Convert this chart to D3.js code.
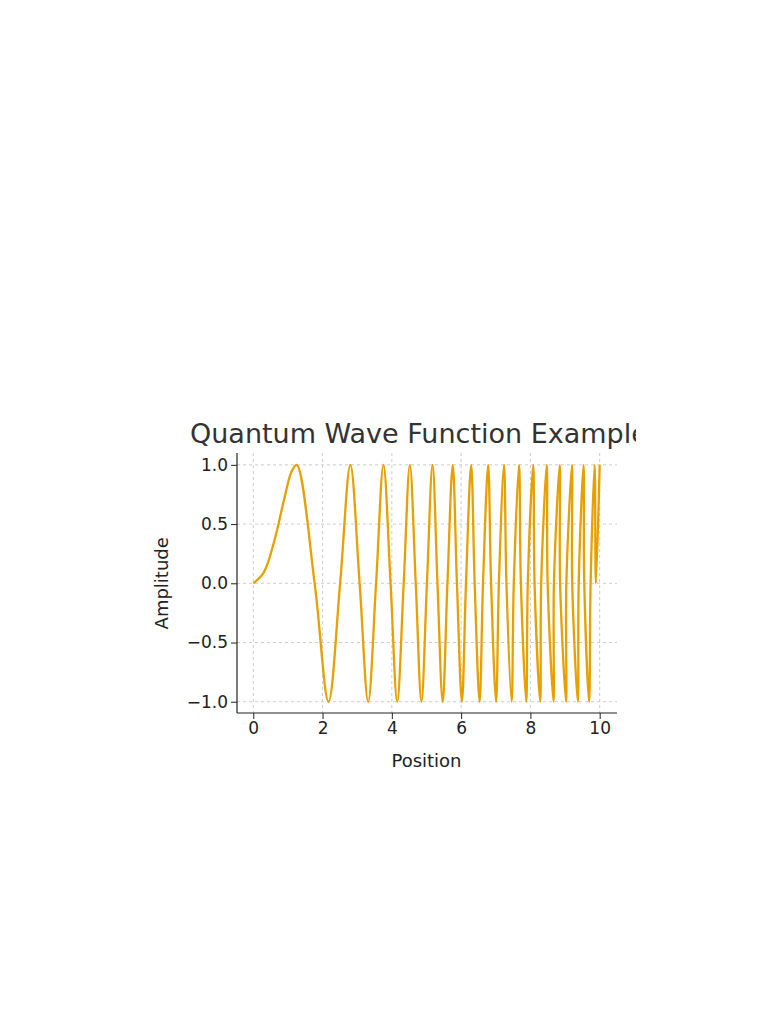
<!DOCTYPE html>
<html>
<head>
<meta charset="utf-8">
<script src="https://cdn.jsdelivr.net/npm/d3@7"></script>
<style>
  body { margin: 0; background: #fff; }
  text { font-family: "DejaVu Sans", sans-serif; }
</style>
</head>
<body>
<script>
// Valores: picos, valles y cruces por cero.
const posiciones = [0, 0.3, 0.6, 0.9, 1.1, 1.253, 1.772, 2.171, 2.507, 2.802, 3.070, 3.317, 3.545, 3.758,
  3.963, 4.155, 4.342, 4.520, 4.690, 4.854, 5.013, 5.175, 5.317, 5.468, 5.605, 5.758, 5.879, 6.023,
  6.140, 6.289, 6.391, 6.533, 6.632, 6.780, 6.865, 7.009, 7.090, 7.238, 7.308, 7.457, 7.520, 7.671,
  7.725, 7.880, 7.925, 8.081, 8.120, 8.283, 8.311, 8.472, 8.497, 8.668, 8.679, 8.847, 8.857, 9.031,
  9.038, 9.202, 9.207, 9.370, 9.394, 9.534, 9.555, 9.695, 9.738, 9.854, 9.891, 10];
const amplitudes = [0, 0.09, 0.35, 0.72, 0.94, 1, 0, -1, 0, 1, 0, -1, 0, 1,
  0, -1, 0, 1, 0, -1, 0, 1, 0, -1, 0, 1, 0, -1,
  0, 1, 0, -1, 0, 1, 0, -1, 0, 1, 0, -1, 0, 1,
  0, -1, 0, 1, 0, -1, 0, 1, 0, -1, 0, 1, 0, -1,
  0, 1, 0, -1, 0, 1, 0, -1, 0, 1, 0, 1, -0.5];
const ticksX = [0, 2, 4, 6, 8, 10];
const ticksY = [-1.0, -0.5, 0.0, 0.5, 1.0];

// Corrige: el último par debe ser (9.891, 1) y luego (10, -0.5).
const datos = posiciones.map((x, i) => ({ x, y: amplitudes[i] }));
datos.sort((a, b) => a.x - b.x);

const LEFT = 237, RIGHT = 617, TOP = 453, BOTTOM = 713;

const svg = d3.select("body").append("svg").attr("width", 768).attr("height", 1024);

const escalaX = d3.scaleLinear().domain([-0.47, 10.5]).range([LEFT, RIGHT]);
const escalaY = d3.scaleLinear().domain([-1.095, 1.1]).range([BOTTOM, TOP]);

// Grilla punteada
svg.append("g").selectAll("line").data(ticksX).join("line")
  .attr("x1", d => escalaX(d)).attr("x2", d => escalaX(d))
  .attr("y1", TOP).attr("y2", BOTTOM)
  .attr("stroke", "#ccc").attr("stroke-dasharray", "3,3");
svg.append("g").selectAll("line").data(ticksY).join("line")
  .attr("x1", LEFT).attr("x2", RIGHT)
  .attr("y1", d => escalaY(d)).attr("y2", d => escalaY(d))
  .attr("stroke", "#ccc").attr("stroke-dasharray", "3,3");

// Ejes
const ejeX = svg.append("g").attr("transform", `translate(0,${BOTTOM})`)
  .call(d3.axisBottom(escalaX).tickValues(ticksX).tickFormat(d3.format("d")).tickSizeOuter(0));
const ejeY = svg.append("g").attr("transform", `translate(${LEFT},0)`)
  .call(d3.axisLeft(escalaY).tickValues(ticksY).tickFormat(d => d3.format(".1f")(d).replace("-", "−")).tickSizeOuter(0));
[ejeX, ejeY].forEach(e => {
  e.selectAll("text").attr("font-size", 17).attr("fill", "#222").attr("font-family", "DejaVu Sans");
  e.selectAll("line").attr("stroke", "#222");
  e.select(".domain").attr("stroke", "#222").attr("stroke-width", 1.2);
});
ejeX.select(".domain").attr("d", `M${LEFT},0H${RIGHT}`);
ejeY.select(".domain").attr("d", `M0,${TOP}V${BOTTOM}`);

// Curva
const linea = d3.line().x(d => escalaX(d.x)).y(d => escalaY(d.y)).curve(d3.curveCatmullRom.alpha(0.5));
svg.append("path").datum(datos).attr("d", linea)
  .attr("fill", "none").attr("stroke", "#E8A000").attr("stroke-width", 2.3);

// Textos
svg.append("text").attr("x", escalaX(5)).attr("y", 767).attr("text-anchor", "middle")
  .attr("font-size", 18).attr("fill", "#222").text("Position");
svg.append("text").attr("transform", `translate(168,${escalaY(0)}) rotate(-90)`)
  .attr("text-anchor", "middle").attr("font-size", 18).attr("fill", "#222").text("Amplitude");

svg.append("clipPath").attr("id", "recorte").append("rect")
  .attr("x", 0).attr("y", 380).attr("width", 636).attr("height", 80);
svg.append("text").attr("clip-path", "url(#recorte)")
  .attr("x", 190).attr("y", 443).attr("font-size", 27).attr("fill", "#333")
  .text("Quantum Wave Function Example");
</script>
</body>
</html>
